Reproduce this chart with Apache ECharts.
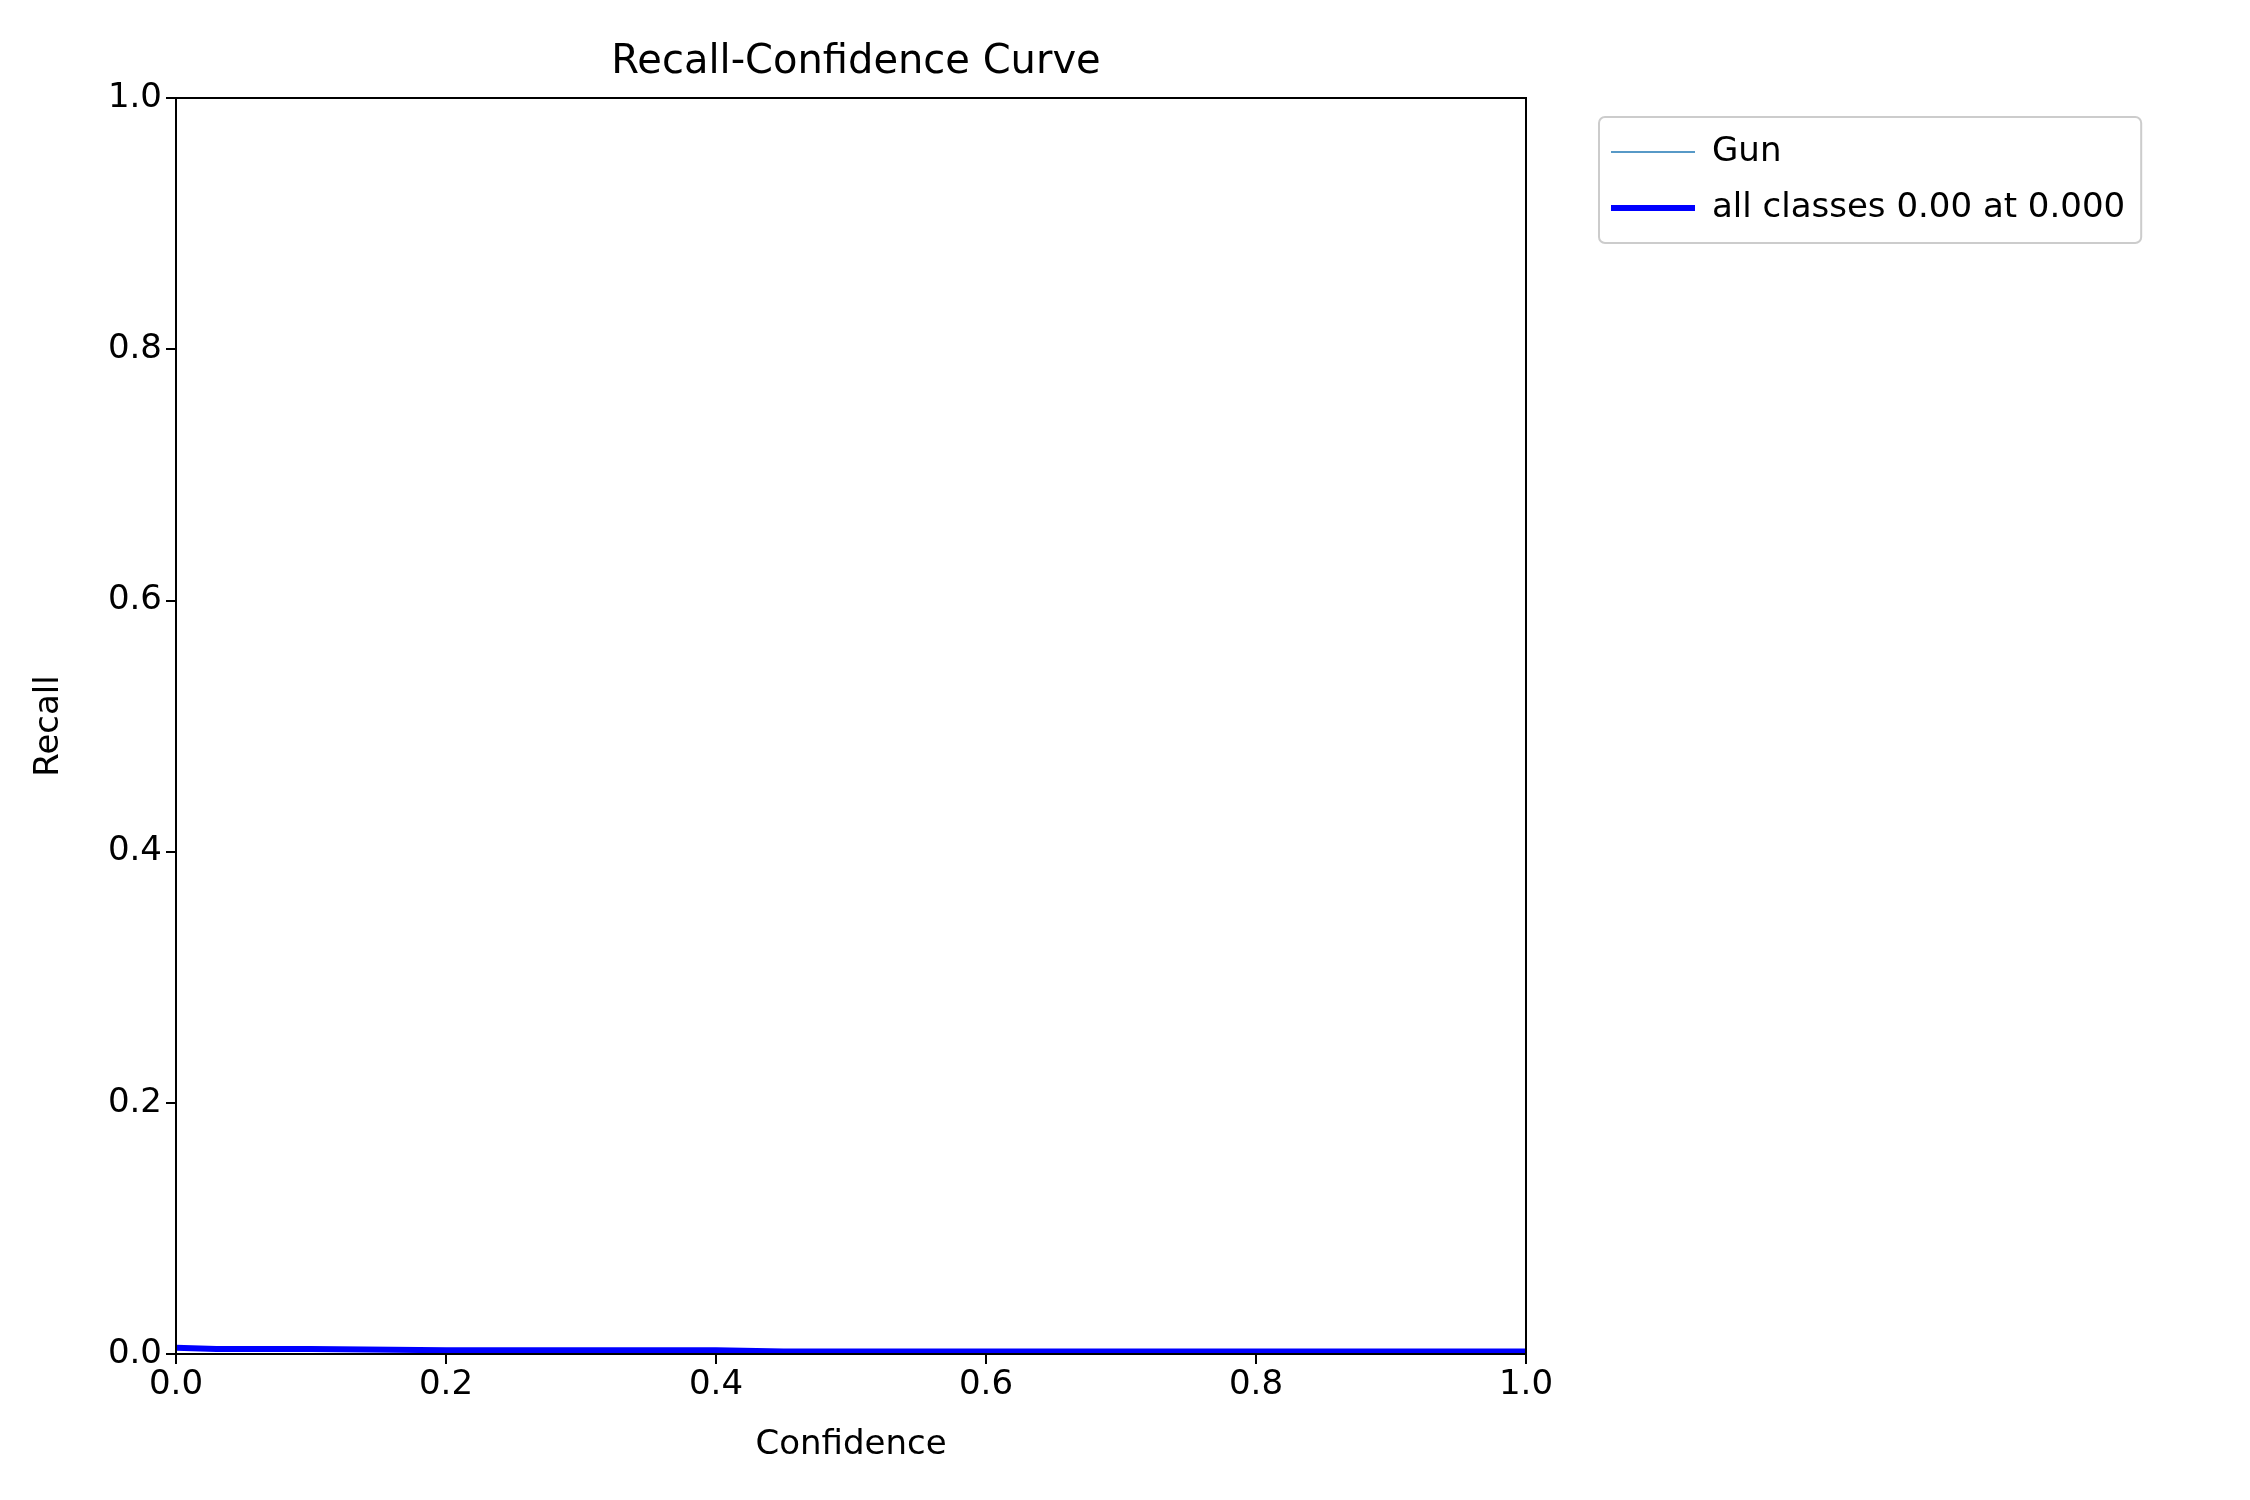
<!DOCTYPE html>
<html><head><meta charset="utf-8">
<script src="https://cdn.jsdelivr.net/npm/echarts@6/dist/echarts.min.js"></script>
<style>html,body{margin:0;background:#fff}#c{width:2250px;height:1500px}</style>
</head><body><div id="c"></div>
<script>
const confidence = [0.0, 0.03, 0.1, 0.2, 0.3, 0.4, 0.45, 0.5, 0.6, 0.7, 0.8, 0.9, 1.0];
const gunRecall = [0.005, 0.004, 0.004, 0.003, 0.003, 0.003, 0.002, 0.002, 0.002, 0.002, 0.002, 0.002, 0.002];
const allRecall = [0.005, 0.004, 0.004, 0.003, 0.003, 0.003, 0.002, 0.002, 0.002, 0.002, 0.002, 0.002, 0.002];

const font = 'DejaVu Sans';
const chart = echarts.init(document.getElementById('c'), null, {renderer: 'canvas'});
chart.setOption({
  animation: false,
  backgroundColor: '#fff',
  title: {text: 'Recall-Confidence Curve', left: 851, top: 38, textAlign: 'center',
    textStyle: {fontFamily: font, fontSize: 40, fontWeight: 'normal', color: '#000'}},
  grid: {left: 176, top: 98, width: 1350, height: 1256},
  legend: {
    left: 1599, top: 117, orient: 'vertical', itemWidth: 84, itemHeight: 14, itemGap: 22,
    padding: [18, 16, 18, 12], borderColor: '#ccc', borderWidth: 2, borderRadius: 6,
    textStyle: {fontFamily: font, fontSize: 34, color: '#000', padding: [0, 0, 0, 12]},
    data: [{name: 'Gun', icon: 'path://M0,6.2 L84,6.2 L84,7.8 L0,7.8 Z', itemStyle: {color: '#1f77b4'}},
           {name: 'all classes 0.00 at 0.000', icon: 'path://M0,4 L84,4 L84,10 L0,10 Z', itemStyle: {color: '#0000ff'}}]
  },
  xAxis: {type: 'value', min: 0, max: 1, interval: 0.2, name: 'Confidence', nameLocation: 'middle', nameGap: 74,
    nameTextStyle: {fontFamily: font, fontSize: 34, color: '#000'},
    axisLine: {onZero: false, lineStyle: {color: '#000', width: 2}},
    axisTick: {length: 10, lineStyle: {color: '#000', width: 2}},
    axisLabel: {fontFamily: font, fontSize: 34, color: '#000', margin: 14, formatter: v => v.toFixed(1)},
    splitLine: {show: false}},
  yAxis: {type: 'value', min: 0, max: 1, interval: 0.2, name: 'Recall', nameLocation: 'middle', nameGap: 110,
    nameTextStyle: {fontFamily: font, fontSize: 34, color: '#000'},
    axisLine: {show: true, lineStyle: {color: '#000', width: 2}},
    axisTick: {show: true, length: 10, lineStyle: {color: '#000', width: 2}},
    axisLabel: {fontFamily: font, fontSize: 34, color: '#000', margin: 14, formatter: v => v.toFixed(1)},
    splitLine: {show: false}},
  graphic: [{type: 'rect', shape: {x: 176, y: 98, width: 1350, height: 1256}, style: {fill: 'none', stroke: '#000', lineWidth: 2}, z: 10}],
  series: [
    {name: 'Gun', type: 'line', symbol: 'none', data: confidence.map((x, i) => [x, gunRecall[i]]),
      itemStyle: {color: '#1f77b4'}, lineStyle: {color: '#1f77b4', width: 1.5}},
    {name: 'all classes 0.00 at 0.000', type: 'line', symbol: 'none', data: confidence.map((x, i) => [x, allRecall[i]]),
      itemStyle: {color: '#0000ff'}, lineStyle: {color: '#0000ff', width: 6}}
  ]
});
</script></body></html>
